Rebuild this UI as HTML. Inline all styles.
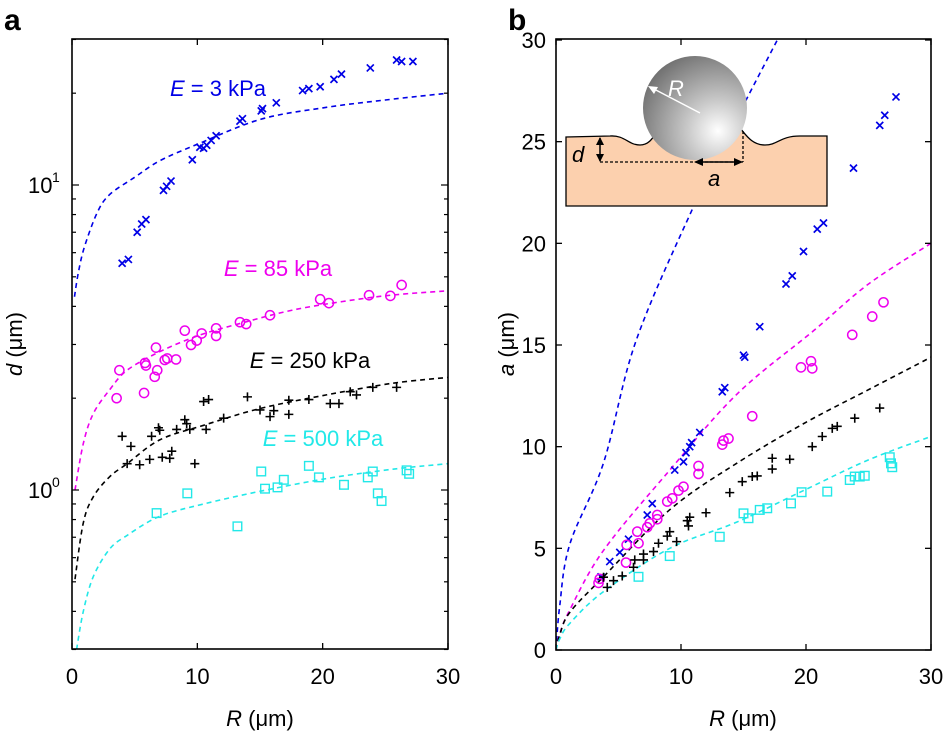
<!DOCTYPE html>
<html><head><meta charset="utf-8"><style>
html,body{margin:0;padding:0;background:#fff;}
svg{display:block;font-family:"Liberation Sans",sans-serif;}
</style></head><body>
<svg id="fig" width="946" height="735" viewBox="0 0 946 735">
<defs>
<radialGradient id="sph" cx="0.72" cy="0.72" r="0.85">
<stop offset="0" stop-color="#ffffff"/><stop offset="0.35" stop-color="#c8c8c8"/><stop offset="1" stop-color="#6a6a6a"/>
</radialGradient>
<clipPath id="clipA"><rect x="72" y="39" width="376" height="610"/></clipPath>
<clipPath id="clipB"><rect x="556" y="39" width="375" height="611"/></clipPath>
</defs>
<text x="4" y="30" font-size="30" font-weight="bold">a</text>
<text x="508" y="30" font-size="30" font-weight="bold">b</text>
<g id="gA"></g>
<g id="gB"></g>
<g>
<path d="M566,137 L610,136 C625,135 628,145 640,145 C652,145 655,132 660,128 L740,128 C746,135 752,145 765,145 C778,145 780,136 800,136 L827,136 L827,206 L566,206 Z" fill="#fcd0ae" stroke="#000" stroke-width="1.3"/>
<circle cx="695" cy="108" r="52" fill="url(#sph)"/>
<line x1="700" y1="113" x2="652" y2="88" stroke="#fff" stroke-width="1.5"/>
<path d="M648,86 l10,1 l-4,7 z" fill="#fff"/>
<text x="668" y="96" font-size="22" font-style="italic" fill="#fff">R</text>
<line x1="600" y1="162" x2="743" y2="162" stroke="#000" stroke-width="1.3" stroke-dasharray="3,2"/>
<line x1="743" y1="131" x2="743" y2="162" stroke="#000" stroke-width="1.3" stroke-dasharray="3,2"/>
<line x1="600" y1="138" x2="600" y2="161" stroke="#000" stroke-width="1.5"/>
<path d="M596,145 l4,-8 l4,8 z M596,154 l4,8 l4,-8 z" fill="#000"/>
<text x="572" y="162" font-size="22" font-style="italic">d</text>
<line x1="700" y1="162" x2="736" y2="162" stroke="#000" stroke-width="1.5"/>
<path d="M694,162 l9,-4 l0,8 z M743,162 l-9,-4 l0,8 z" fill="#000"/>
<text x="708" y="186" font-size="22" font-style="italic">a</text>
</g>
</svg>
<script>
// ---------- Panel a data ----------
const blueR_a=[4.0,4.5,5.2,5.56,5.9,7.3,7.55,7.9,9.6,10.2,10.5,10.75,11.1,11.5,13.4,13.6,15.1,15.2,16.3,18.4,18.9,19.8,20.9,21.5,23.8,25.9,26.3,27.2];
const blueD_a=[5.54,5.7,7.0,7.45,7.7,9.6,9.9,10.3,12.1,13.3,13.2,13.5,14.0,14.5,16.2,16.5,17.5,17.8,18.6,20.4,20.7,21.0,22.2,23.1,24.2,25.7,25.4,25.4];
const magR_a=[3.56,3.78,5.75,5.83,5.9,6.6,6.8,6.7,7.4,7.6,8.3,9.0,9.5,9.95,10.35,11.5,11.5,13.4,13.9,15.8,19.8,20.5,23.7,25.4,26.3];
const magD_a=[2.0,2.47,2.08,2.61,2.56,2.35,2.47,2.93,2.67,2.7,2.68,3.33,2.99,3.09,3.26,3.2,3.39,3.55,3.5,3.74,4.22,4.1,4.35,4.33,4.7];
const blkR_a=[4.0,4.7,4.4,5.4,6.2,6.35,6.9,7.0,7.2,7.8,7.96,8.35,9.0,9.15,9.4,9.8,10.5,10.9,10.7,12.1,14.0,15.0,15.8,16.1,17.3,17.3,18.9,20.6,21.3,22.2,22.7,24.0,25.9];
const blkD_a=[1.5,1.39,1.22,1.21,1.26,1.5,1.6,1.57,1.28,1.27,1.34,1.58,1.7,1.65,1.58,1.22,1.95,1.98,1.58,1.72,2.02,1.83,1.74,1.82,1.97,1.77,1.98,1.92,1.92,2.1,2.05,2.17,2.17];
const cyaR_a=[6.75,9.2,13.2,15.1,15.4,16.4,16.9,18.9,19.7,21.7,23.6,24.0,24.4,24.7,26.7,26.9];
const cyaD_a=[0.84,0.975,0.76,1.15,1.01,1.02,1.08,1.2,1.1,1.04,1.1,1.15,0.975,0.92,1.16,1.13];
const fitBlueR_a=[0.2,0.5,1,2,3,5,7,10,15,20,25,30];
const fitBlueD_a=[4.3,5.15,6.28,8.1,9.3,10.6,12.0,13.6,16.4,17.9,19.0,20.0];
const fitMagR_a=[0.24,0.9,1.7,3,4.4,7,10.2,13.9,17.6,21.6,25.6,30];
const fitMagD_a=[1.0,1.42,1.78,2.13,2.47,2.84,3.22,3.56,3.89,4.15,4.36,4.5];
const fitBlkR_a=[0.24,0.9,1.7,3,4.4,7,10.5,15,20.3,25.6,30];
const fitBlkD_a=[0.51,0.78,0.95,1.105,1.22,1.46,1.63,1.85,2.05,2.24,2.34];
const fitCyaR_a=[0.37,0.9,1.7,3,4.4,7,10.5,15,20.3,25.6,30];
const fitCyaD_a=[0.3,0.4,0.52,0.64,0.71,0.82,0.9,0.99,1.09,1.17,1.22];
const xTicks=[0,10,20,30];
// ---------- Panel b data ----------
const blueR_b=[27.2,26.3,25.9,23.8,21.4,20.9,19.8,18.9,18.4,16.3,15.0,15.1,13.5,13.3,11.5,10.85,10.7,10.4,10.2,9.5,7.7,7.3,5.8,5.1,4.3,3.6];
const blueA_b=[27.2,26.3,25.8,23.7,21.0,20.7,19.6,18.4,18.0,15.9,14.5,14.4,12.9,12.7,10.7,10.2,10.0,9.7,9.26,8.85,7.2,6.64,5.45,4.8,4.35,3.6];
const magR_b=[26.2,25.3,23.7,19.6,20.4,20.5,15.7,13.4,13.8,13.3,11.4,11.4,10.2,9.8,9.3,8.9,8.1,8.1,7.5,7.3,6.5,6.6,5.65,5.6,3.5,3.4];
const magA_b=[17.1,16.4,15.5,13.9,14.2,13.85,11.5,10.3,10.4,10.1,9.05,8.66,8.03,7.84,7.46,7.3,6.64,6.43,6.23,6.04,5.82,5.25,5.17,4.3,3.5,3.3];
const blkR_b=[25.9,23.9,22.5,22.1,21.3,20.5,18.7,17.3,17.3,16.1,15.7,14.9,13.9,12.0,10.7,10.5,10.6,9.65,9.1,8.9,8.2,7.8,7.0,7.0,6.3,6.2,5.3,4.6,4.1,3.8];
const blkA_b=[11.9,11.4,11.0,10.9,10.5,10.0,9.38,9.43,8.9,8.56,8.53,8.28,7.74,6.75,6.53,6.36,6.1,5.33,5.82,5.6,5.25,4.84,4.72,4.43,4.43,4.07,3.64,3.41,3.08,3.58];
const cyaR_b=[26.7,26.8,26.9,24.7,24.3,23.9,23.5,21.7,19.65,18.8,16.9,16.3,15.4,15.0,13.1,9.1,6.6];
const cyaA_b=[9.48,9.18,8.99,8.57,8.53,8.53,8.36,7.79,7.76,7.21,6.97,6.89,6.48,6.72,5.57,4.62,3.6];
const fitBlueR_b=[0,0.3,1.1,3.8,6.4,11,14.5,17.7,18.5];
const fitBlueA_b=[0,2.2,5.2,9.2,15.2,21.8,26.2,30,31];
const fitMagR_b=[0,0.3,1.1,3.8,9.1,14.5,20.6,25,30];
const fitMagA_b=[0,0.8,1.97,4.9,8.85,12.6,15.7,18.0,20.0];
const fitBlkR_b=[0,0.3,1.1,3.8,9.1,14.5,20,25,30];
const fitBlkA_b=[0,0.75,1.85,3.6,6.9,9.2,11.2,12.8,14.4];
const fitCyaR_b=[0,0.3,1.1,3.8,9.1,14.5,20,25,30];
const fitCyaA_b=[0,0.55,1.31,2.87,5.0,6.3,7.9,9.35,10.5];
const yTicksB=[0,5,10,15,20,25,30];

const NS='http://www.w3.org/2000/svg';
function mk(parent,tag,attrs){const e=document.createElementNS(NS,tag);for(const k in attrs)e.setAttribute(k,attrs[k]);parent.appendChild(e);return e;}
// axis functions
const xA=r=>72+r*(376/30);
const yA=d=>490-Math.log10(d)*305;
const xB=r=>556+r*(375/30);
const yB=a=>650-a*(610/30);
const BLUE='#0000e6',MAG='#ee00ee',BLK='#000',CYA='#22e8e8';

function smoothPath(xs,ys,fx,fy){
  const p=xs.map((x,i)=>[fx(x),fy(ys[i])]);
  let d='M'+p[0][0].toFixed(1)+','+p[0][1].toFixed(1);
  for(let i=0;i<p.length-1;i++){
    const p0=p[Math.max(0,i-1)],p1=p[i],p2=p[i+1],p3=p[Math.min(p.length-1,i+2)];
    const c1=[p1[0]+(p2[0]-p0[0])/6,p1[1]+(p2[1]-p0[1])/6];
    const c2=[p2[0]-(p3[0]-p1[0])/6,p2[1]-(p3[1]-p1[1])/6];
    d+=' C'+c1[0].toFixed(1)+','+c1[1].toFixed(1)+' '+c2[0].toFixed(1)+','+c2[1].toFixed(1)+' '+p2[0].toFixed(1)+','+p2[1].toFixed(1);
  }
  return d;
}
function fitLine(g,xs,ys,fx,fy,col,name,clip){
  const e=mk(g,'path',{d:smoothPath(xs,ys,fx,fy),fill:'none',stroke:col,'stroke-width':1.6,'stroke-dasharray':'5,4','clip-path':'url(#'+clip+')'});
  
  
}
function marker(g,type,cx,cy,col,name){
  let e;
  if(type==='x'){e=mk(g,'path',{d:`M${cx-3.5},${cy-3.5}L${cx+3.5},${cy+3.5}M${cx-3.5},${cy+3.5}L${cx+3.5},${cy-3.5}`,stroke:col,'stroke-width':1.7,fill:'none'});}
  else if(type==='+'){e=mk(g,'path',{d:`M${cx-4.5},${cy}L${cx+4.5},${cy}M${cx},${cy-4.5}L${cx},${cy+4.5}`,stroke:col,'stroke-width':1.6,fill:'none'});}
  else if(type==='o'){e=mk(g,'circle',{cx:cx,cy:cy,r:4.6,stroke:col,'stroke-width':1.5,fill:'none'});}
  else {e=mk(g,'rect',{x:cx-4.3,y:cy-4.3,width:8.6,height:8.6,stroke:col,'stroke-width':1.4,fill:'none'});}
  
  
}
function series(g,xs,ys,fx,fy,type,col,name){xs.forEach((x,i)=>marker(g,type,fx(x),fy(ys[i]),col,name));}

// ---- Panel A ----
const gA=document.getElementById('gA');
fitLine(gA,fitBlueR_a,fitBlueD_a,xA,yA,BLUE,'fit-3kpa','clipA');
fitLine(gA,fitMagR_a,fitMagD_a,xA,yA,MAG,'fit-85kpa','clipA');
fitLine(gA,fitBlkR_a,fitBlkD_a,xA,yA,BLK,'fit-250kpa','clipA');
fitLine(gA,fitCyaR_a,fitCyaD_a,xA,yA,CYA,'fit-500kpa','clipA');
series(gA,blueR_a,blueD_a,xA,yA,'x',BLUE,'point-3kpa');
series(gA,magR_a,magD_a,xA,yA,'o',MAG,'point-85kpa');
series(gA,blkR_a,blkD_a,xA,yA,'+',BLK,'point-250kpa');
series(gA,cyaR_a,cyaD_a,xA,yA,'s',CYA,'point-500kpa');
let frA=mk(gA,'rect',{x:72,y:39,width:376,height:610,fill:'none',stroke:'#000','stroke-width':1.6});


xTicks.forEach(t=>{
  const x=xA(t);
  mk(gA,'line',{x1:x,y1:649,x2:x,y2:643,stroke:'#000','stroke-width':1.3});
  mk(gA,'line',{x1:x,y1:39,x2:x,y2:45,stroke:'#000','stroke-width':1.3});
  const l=mk(gA,'text',{x:x,y:684,'font-size':22,'text-anchor':'middle'});l.textContent=t;
  
  
});
for(let dec=-1;dec<=1;dec++){for(let m=1;m<10;m++){const v=m*Math.pow(10,dec);if(v<0.3||v>30)continue;const y=yA(v);const len=m===1?7:4;
  mk(gA,'line',{x1:72,y1:y,x2:72+len,y2:y,stroke:'#000','stroke-width':1.2});
  mk(gA,'line',{x1:448,y1:y,x2:448-len,y2:y,stroke:'#000','stroke-width':1.2});}}
[[1,'1'],[0,'0']].forEach(([p,s])=>{const y=yA(Math.pow(10,p));
  const t=mk(gA,'text',{x:28,y:y+8,'font-size':22});t.textContent='10';
  
  
  const sp=mk(gA,'text',{x:52,y:y-3,'font-size':14});sp.textContent=s;});
function lbl(g,x,y,html,col,name,rot){const t=mk(g,'text',{x:x,y:y,'font-size':22,fill:col,'text-anchor':'middle'});if(rot)t.setAttribute('transform',`rotate(-90 ${x} ${y})`);t.innerHTML=html;
  
  }
lbl(gA,218,96,'<tspan font-style="italic">E</tspan> = 3 kPa',BLUE,'label-3kpa');
lbl(gA,278,276,'<tspan font-style="italic">E</tspan> = 85 kPa',MAG,'label-85kpa');
lbl(gA,310,368,'<tspan font-style="italic">E</tspan> = 250 kPa',BLK,'label-250kpa');
lbl(gA,323,446,'<tspan font-style="italic">E</tspan> = 500 kPa',CYA,'label-500kpa');
lbl(gA,260,726,'<tspan font-style="italic">R</tspan> (μm)','#000','x-axis-title-a');
lbl(gA,22,344,'<tspan font-style="italic">d</tspan> (μm)','#000','y-axis-title-a',true);

// ---- Panel B ----
const gB=document.getElementById('gB');
fitLine(gB,fitBlueR_b,fitBlueA_b,xB,yB,BLUE,'fit-b-3kpa','clipB');
fitLine(gB,fitMagR_b,fitMagA_b,xB,yB,MAG,'fit-b-85kpa','clipB');
fitLine(gB,fitBlkR_b,fitBlkA_b,xB,yB,BLK,'fit-b-250kpa','clipB');
fitLine(gB,fitCyaR_b,fitCyaA_b,xB,yB,CYA,'fit-b-500kpa','clipB');
series(gB,blueR_b,blueA_b,xB,yB,'x',BLUE,'point-b-3kpa');
series(gB,magR_b,magA_b,xB,yB,'o',MAG,'point-b-85kpa');
series(gB,blkR_b,blkA_b,xB,yB,'+',BLK,'point-b-250kpa');
series(gB,cyaR_b,cyaA_b,xB,yB,'s',CYA,'point-b-500kpa');
let frB=mk(gB,'rect',{x:556,y:39,width:375,height:611,fill:'none',stroke:'#000','stroke-width':1.6});


xTicks.forEach(t=>{
  const x=xB(t);
  mk(gB,'line',{x1:x,y1:650,x2:x,y2:644,stroke:'#000','stroke-width':1.3});
  mk(gB,'line',{x1:x,y1:39,x2:x,y2:45,stroke:'#000','stroke-width':1.3});
  const l=mk(gB,'text',{x:x,y:684,'font-size':22,'text-anchor':'middle'});l.textContent=t;
  
  
});
yTicksB.forEach(t=>{
  const y=yB(t);
  mk(gB,'line',{x1:556,y1:y,x2:562,y2:y,stroke:'#000','stroke-width':1.3});
  mk(gB,'line',{x1:931,y1:y,x2:925,y2:y,stroke:'#000','stroke-width':1.3});
  const l=mk(gB,'text',{x:546,y:y+8,'font-size':22,'text-anchor':'end'});l.textContent=t;
  
  
});
lbl(gB,743,726,'<tspan font-style="italic">R</tspan> (μm)','#000','x-axis-title-b');
lbl(gB,514,344,'<tspan font-style="italic">a</tspan> (μm)','#000','y-axis-title-b',true);
</script>
</body></html>
